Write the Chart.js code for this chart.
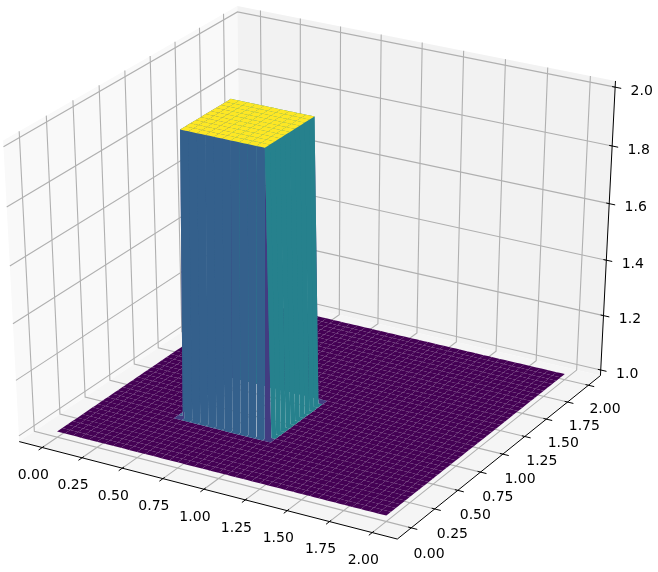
<!DOCTYPE html>
<html>
  <head>
    <script src="https://cdn.jsdelivr.net/npm/chart.js@4"></script>
    <style>
      body { margin: 0; background: #fff; }
      canvas { display: block; }
    </style>
  </head>
  <body>
    <canvas id="surface" width="658" height="572"></canvas>
    <script>
      // INPUT DATA

      const gridValues = [
        0, 0.025, 0.05, 0.075, 0.1, 0.125, 0.15, 0.175, 0.2, 0.225, 0.25, 0.275, 0.3, 0.325, 0.35, 0.375, 0.4, 0.425, 0.45, 0.475,
        0.5, 0.525, 0.55, 0.575, 0.6, 0.625, 0.65, 0.675, 0.7, 0.725, 0.75, 0.775, 0.8, 0.825, 0.85, 0.875, 0.9, 0.925, 0.95, 0.975,
        1, 1.025, 1.05, 1.075, 1.1, 1.125, 1.15, 1.175, 1.2, 1.225, 1.25, 1.275, 1.3, 1.325, 1.35, 1.375, 1.4, 1.425, 1.45, 1.475,
        1.5, 1.525, 1.55, 1.575, 1.6, 1.625, 1.65, 1.675, 1.7, 1.725, 1.75, 1.775, 1.8, 1.825, 1.85, 1.875, 1.9, 1.925, 1.95, 1.975, 2,
      ];
      // 1 where the column stands, along each axis
      const plateauProfile = [
        0, 0, 0, 0, 0, 0, 0, 0, 0, 0, 0, 0, 0, 0, 0, 0, 0, 0, 0, 0,
        1, 1, 1, 1, 1, 1, 1, 1, 1, 1, 1, 1, 1, 1, 1, 1, 1, 1, 1, 1, 1,
        0, 0, 0, 0, 0, 0, 0, 0, 0, 0, 0, 0, 0, 0, 0, 0, 0, 0, 0, 0,
        0, 0, 0, 0, 0, 0, 0, 0, 0, 0, 0, 0, 0, 0, 0, 0, 0, 0, 0, 0,
      ];
      const baseHeight = 1;
      const plateauHeight = 2;

      const xTicks = [0, 0.25, 0.5, 0.75, 1, 1.25, 1.5, 1.75, 2];
      const yTicks = [0, 0.25, 0.5, 0.75, 1, 1.25, 1.5, 1.75, 2];
      const zTicks = [1, 1.2, 1.4, 1.6, 1.8, 2];
      const xLimits = [-0.1, 2.1];
      const yLimits = [-0.1, 2.1];
      const zLimits = [1, 2];

      // viridis, every 1/8
      const viridis = [
        [68, 1, 84], [71, 44, 122], [59, 81, 139], [44, 113, 142], [33, 144, 141],
        [39, 173, 129], [92, 200, 99], [170, 220, 50], [253, 231, 37],
      ];
      // colour levels of the faces that do not lie flat
      const wallLevelFacingY = 1.31;
      const wallLevelFacingX = 1.44;
      const cornerLevel = 1.18;

      // PROJECTION

      const pad = 1 / 48;
      const dist = 10;
      const u = [0.8660254, 0.5, 0];
      const v = [-0.25, 0.4330127, 0.8660254];
      const w = [0.4330127, -0.75, 0.5];

      function dot(a, b) {
        return a[0] * b[0] + a[1] * b[1] + a[2] * b[2];
      }

      function project(x, y, z) {
        const d = [
          (x - xLimits[0]) / (xLimits[1] - xLimits[0]) - 0.5,
          (y - yLimits[0]) / (yLimits[1] - yLimits[0]) - 0.5,
          (z - zLimits[0]) / (zLimits[1] - zLimits[0]) - 0.5,
        ];
        const depth = dist - dot(w, d);
        return { x: dot(u, d) / depth, y: dot(v, d) / depth, depth: depth };
      }

      const xSpan = xLimits[1] - xLimits[0];
      const ySpan = yLimits[1] - yLimits[0];
      const zSpan = zLimits[1] - zLimits[0];
      const xLo = xLimits[0] - xSpan * pad;
      const xHi = xLimits[1] + xSpan * pad;
      const yLo = yLimits[0] - ySpan * pad;
      const yHi = yLimits[1] + ySpan * pad;
      const zLo = zLimits[0] - zSpan * pad;
      const zHi = zLimits[1] + zSpan * pad;

      function path(points) {
        return points.map(function (p) {
          const q = project(p[0], p[1], p[2]);
          return { x: q.x, y: q.y };
        });
      }

      function lineSet(points, color, width) {
        return {
          data: path(points),
          showLine: true,
          fill: false,
          borderColor: color,
          borderWidth: width,
          pointRadius: 0,
          tension: 0,
        };
      }

      function paneSet(points, color) {
        return {
          data: path(points),
          showLine: true,
          fill: "shape",
          backgroundColor: color,
          borderColor: "rgba(0,0,0,0)",
          pointRadius: 0,
          tension: 0,
        };
      }

      function levelColor(level) {
        const t = Math.max(0, Math.min(1, (level - baseHeight) / (plateauHeight - baseHeight))) * (viridis.length - 1);
        const i = Math.min(Math.floor(t), viridis.length - 2);
        const f = t - i;
        const c = viridis[i].map(function (a, k) {
          return Math.round(a + (viridis[i + 1][k] - a) * f);
        });
        return "rgb(" + c.join(",") + ")";
      }

      // SURFACE

      const height = plateauProfile.map(function (py) {
        return plateauProfile.map(function (px) {
          return baseHeight + (plateauHeight - baseHeight) * px * py;
        });
      });

      const faces = [];
      for (let r = 0; r + 2 < gridValues.length; r += 2) {
        for (let c = 0; c + 2 < gridValues.length; c += 2) {
          const nodes = [[r, c], [r, c + 1], [r, c + 2], [r + 1, c + 2], [r + 2, c + 2], [r + 2, c + 1], [r + 2, c], [r + 1, c]];
          const points = nodes.map(function (n) {
            return [gridValues[n[1]], gridValues[n[0]], height[n[0]][n[1]]];
          });
          let level = 0;
          let closeness = 0;
          points.forEach(function (p) {
            level += p[2] / points.length;
            closeness += 1 / project(p[0], p[1], p[2]).depth;
          });
          if (level > 1.3 && level < 1.5) {
            // the hidden back walls take the colour of the wall in front of them
            const acrossY = height[r][c + 1] !== height[r + 2][c + 1];
            const lowSide = acrossY ? height[r][c + 1] === baseHeight : height[r + 1][c] === baseHeight;
            level = lowSide ? wallLevelFacingY : wallLevelFacingX;
          } else if (level > 1.05 && level < 1.3) {
            level = cornerLevel;
          }
          faces.push({ points: points, level: level, closeness: closeness });
        }
      }
      // nearest first: chart.js paints the first dataset last
      faces.sort(function (a, b) {
        return b.closeness - a.closeness;
      });

      const surfaceSets = faces.map(function (f) {
        return paneSet(f.points, levelColor(f.level));
      });

      // BOX

      const tickLine = "#000";
      const gridLine = "rgb(176,176,176)";
      const tickOut = 0.016;
      const tickIn = 0.008;

      const axisSets = [
        lineSet([[xLo, yLo, zLo], [xHi, yLo, zLo]], tickLine, 1),
        lineSet([[xHi, yLo, zLo], [xHi, yHi, zLo]], tickLine, 1),
        lineSet([[xHi, yHi, zLo], [xHi, yHi, zHi]], tickLine, 1),
      ];
      xTicks.forEach(function (t) {
        axisSets.push(lineSet([[t, yLo - tickOut * ySpan, zLo], [t, yLo + tickIn * ySpan, zLo]], tickLine, 1));
      });
      yTicks.forEach(function (t) {
        axisSets.push(lineSet([[xHi + tickOut * xSpan, t, zLo], [xHi - tickIn * xSpan, t, zLo]], tickLine, 1));
      });
      zTicks.forEach(function (t) {
        axisSets.push(lineSet([[xHi + tickOut * xSpan, yHi, t], [xHi - tickIn * xSpan, yHi, t]], tickLine, 1));
      });

      const gridSets = [];
      xTicks.forEach(function (t) {
        gridSets.push(lineSet([[t, yLo, zLo], [t, yHi, zLo], [t, yHi, zHi]], gridLine, 1.1));
      });
      yTicks.forEach(function (t) {
        gridSets.push(lineSet([[xHi, t, zLo], [xLo, t, zLo], [xLo, t, zHi]], gridLine, 1.1));
      });
      zTicks.forEach(function (t) {
        gridSets.push(lineSet([[xLo, yLo, t], [xLo, yHi, t], [xHi, yHi, t]], gridLine, 1.1));
      });

      const paneSets = [
        paneSet([[xLo, yLo, zLo], [xHi, yLo, zLo], [xHi, yHi, zLo], [xLo, yHi, zLo]], "rgb(245,245,245)"),
        paneSet([[xLo, yHi, zLo], [xHi, yHi, zLo], [xHi, yHi, zHi], [xLo, yHi, zHi]], "rgb(242,242,242)"),
        paneSet([[xLo, yLo, zLo], [xLo, yHi, zLo], [xLo, yHi, zHi], [xLo, yLo, zHi]], "rgb(249,249,249)"),
      ];

      // TICK LABELS

      const tickLabels = {
        id: "tickLabels",
        afterDatasetsDraw: function (chart) {
          const ctx = chart.ctx;
          const sx = chart.scales.x;
          const sy = chart.scales.y;
          function put(point, text, dx, dy) {
            const q = project(point[0], point[1], point[2]);
            ctx.fillText(text, sx.getPixelForValue(q.x) + dx, sy.getPixelForValue(q.y) + dy);
          }
          ctx.save();
          ctx.font = '14px "DejaVu Sans"';
          ctx.fillStyle = "#000";
          ctx.textAlign = "center";
          ctx.textBaseline = "middle";
          xTicks.forEach(function (t) {
            put([t, yLo, zLo], t.toFixed(2), -9, 28);
          });
          yTicks.forEach(function (t) {
            put([xHi, t, zLo], t.toFixed(2), 17.8 - 0.6 * t, 26 - 1.2 * t);
          });
          zTicks.forEach(function (t) {
            put([xHi, yHi, t], t.toFixed(1), 26.5, 4);
          });
          ctx.restore();
        },
      };

      // PLOTTING DATA

      const ctx = document.getElementById("surface").getContext("2d");
      const surfaceChart = new Chart(ctx, {
        type: "scatter",
        data: { datasets: surfaceSets.concat(axisSets, gridSets, paneSets) },
        options: {
          responsive: false,
          animation: false,
          devicePixelRatio: 1,
          events: [],
          layout: { padding: 0 },
          plugins: { legend: { display: false }, tooltip: { enabled: false } },
          scales: {
            x: { type: "linear", display: false, min: -0.07506, max: 0.08198 },
            y: { type: "linear", display: false, min: -0.09364, max: 0.0797 },
          },
        },
        plugins: [tickLabels],
      });
    </script>
  </body>
</html>
